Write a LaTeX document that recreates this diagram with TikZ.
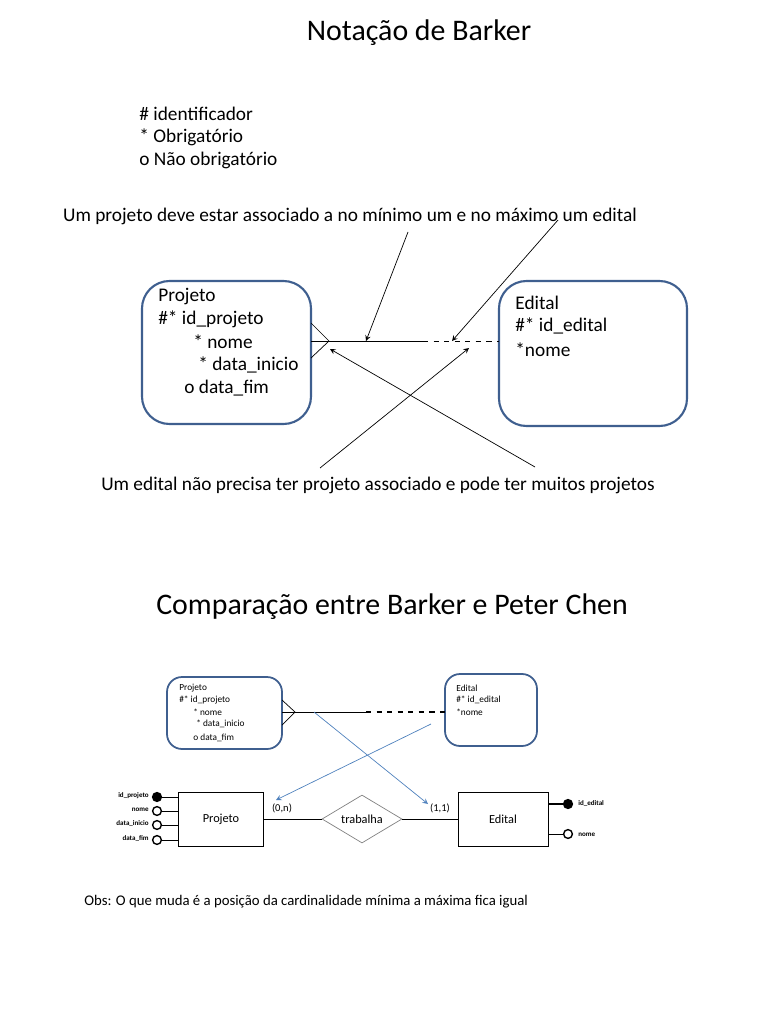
\documentclass[tikz,border=0pt]{standalone}
\usepackage{fontspec}
\setmainfont{Carlito}
\usetikzlibrary{shapes.geometric, arrows, positioning}
\definecolor{boxblue}{HTML}{3F5F8F}
\definecolor{arrblue}{HTML}{4F81BD}
\tikzset{
  barker/.style={draw=boxblue,line width=1.2pt,rounded corners=0.55cm},
  sbarker/.style={draw=boxblue,line width=1pt,rounded corners=0.3cm},
  txt/.style={anchor=west,inner sep=0pt,font=\fontsize{11}{13}\selectfont},
  stxt/.style={anchor=west,inner sep=0pt,font=\fontsize{5.3}{6}\selectfont},
  atxt/.style={anchor=east,inner sep=0pt,font=\bfseries\fontsize{4}{5}\selectfont},
  ptr/.style={-stealth,thin},
  bptr/.style={-stealth,thin,color=arrblue},
  attr/.style={circle,draw,thick,inner sep=0pt,minimum size=5pt}
}
\begin{document}
\begin{tikzpicture}[x=0.02cm,y=-0.02cm]
		\useasboundingbox (0,0) rectangle (768,1024);
		% titles
		\node [font=\fontsize{17}{20}\selectfont] at (419,33) (t1) {Notação de Barker};
		\node [font=\fontsize{17}{20}\selectfont] at (392,607) (t2) {Comparação entre Barker e Peter Chen};
		\node [txt] at (139,114) (l1) {\# identificador};
		\node [txt] at (139,137) (l2) {* Obrigatório};
		\node [txt] at (139,160) (l3) {o Não obrigatório};
		\node [font=\fontsize{11}{13}\selectfont] at (350,216) (s1) {Um projeto deve estar associado a no mínimo um e no máximo um edital};
		\node [font=\fontsize{11}{13}\selectfont] at (378,485) (s2) {Um edital não precisa ter projeto associado e pode ter muitos projetos};
		% Barker boxes
		\draw [barker] (142,281) rectangle (311,424);
		\draw [barker] (499,281) rectangle (687,426);
		\node [txt] at (158,297) (p1) {Projeto};
		\node [txt] at (158,319) (p2) {\#* id\_projeto};
		\node [txt] at (193,342) (p3) {* nome};
		\node [txt] at (198,365) (p4) {* data\_inicio};
		\node [txt] at (184,388) (p5) {o data\_fim};
		\node [txt] at (515,303) (e1) {Edital};
		\node [txt] at (515,326) (e2) {\#* id\_edital};
		\node [txt] at (515,350) (e3) {*nome};
		\coordinate (crow) at (329,341);
		\coordinate (mid) at (423,341);
		\coordinate (ed) at (499,341);
		\draw (311,323) -- (crow) -- (311,358);
		\draw (311,341) -- (mid);
		\draw [dashed] (mid) -- (ed);
		\draw [ptr] (408,232) -- (366,341);
		\draw [ptr] (558,220) -- (452,341);
		\draw [ptr] (320,468) -- (469,348);
		\draw [ptr] (535,467) -- (330,349);
		% small Barker
		\draw [sbarker] (167,677) rectangle (282,749);
		\draw [sbarker] (445,674) rectangle (537,746);
		\node [stxt] at (179,688) (q1) {Projeto};
		\node [stxt] at (179,700) (q2) {\#* id\_projeto};
		\node [stxt] at (193,712) (q3) {* nome};
		\node [stxt] at (196,724) (q4) {* data\_inicio};
		\node [stxt] at (193,738) (q5) {o data\_fim};
		\node [stxt] at (456,688) (f1) {Edital};
		\node [stxt] at (456,700) (f2) {\#* id\_edital};
		\node [stxt] at (456,712) (f3) {*nome};
		\coordinate (scrow) at (295,712);
		\coordinate (smid) at (366,712);
		\draw (282,700) -- (scrow) -- (282,725);
		\draw (282,712) -- (smid);
		\draw [dashed,thick] (smid) -- (445,712);
		\draw [bptr] (314,712) -- (428,804);
		\draw [bptr] (431,724) -- (276,800);
		% Chen
		\node [draw,minimum width=1.7cm,minimum height=1.08cm] at (221,819) (pj) {\fontsize{7}{8}\selectfont Projeto};
		\node [draw,minimum width=1.8cm,minimum height=1.08cm] at (503,819) (ej) {\fontsize{7}{8}\selectfont Edital};
		\node [draw=gray,diamond,aspect=1.6,minimum width=1.6cm,minimum height=0.96cm,inner sep=0pt] at (362,819) (tr) {\fontsize{7}{8}\selectfont trabalha};
		\draw (pj) -- (tr) -- (ej);
		\node [font=\fontsize{6}{7}\selectfont] at (282,808) (c1) {(0,n)};
		\node [font=\fontsize{6}{7}\selectfont] at (440,808) (c2) {(1,1)};
		\foreach \y/\n/\f in {797/id\_projeto/black, 811/nome/white, 825/data\_inicio/white, 840/data\_fim/white} {
			\node [attr,fill=\f] at (157,\y) (a\y) {};
			\draw (a\y) -- (179,\y);
			\node [atxt] at (149,\y-1) {\n};
		}
		\node [attr,fill=black] at (568,804) (b1) {};
		\node [attr,fill=white] at (568,834) (b2) {};
		\draw [thick] (548,804) -- (b1);
		\draw (548,834) -- (b2);
		\node [atxt,anchor=west] at (578,804) {id\_edital};
		\node [atxt,anchor=west] at (578,835) {nome};
		\node [txt,font=\fontsize{8.4}{10}\selectfont] at (84,902) (obs) {Obs: O que muda é a posição da cardinalidade mínima a máxima fica igual};
\end{tikzpicture}
\end{document}
